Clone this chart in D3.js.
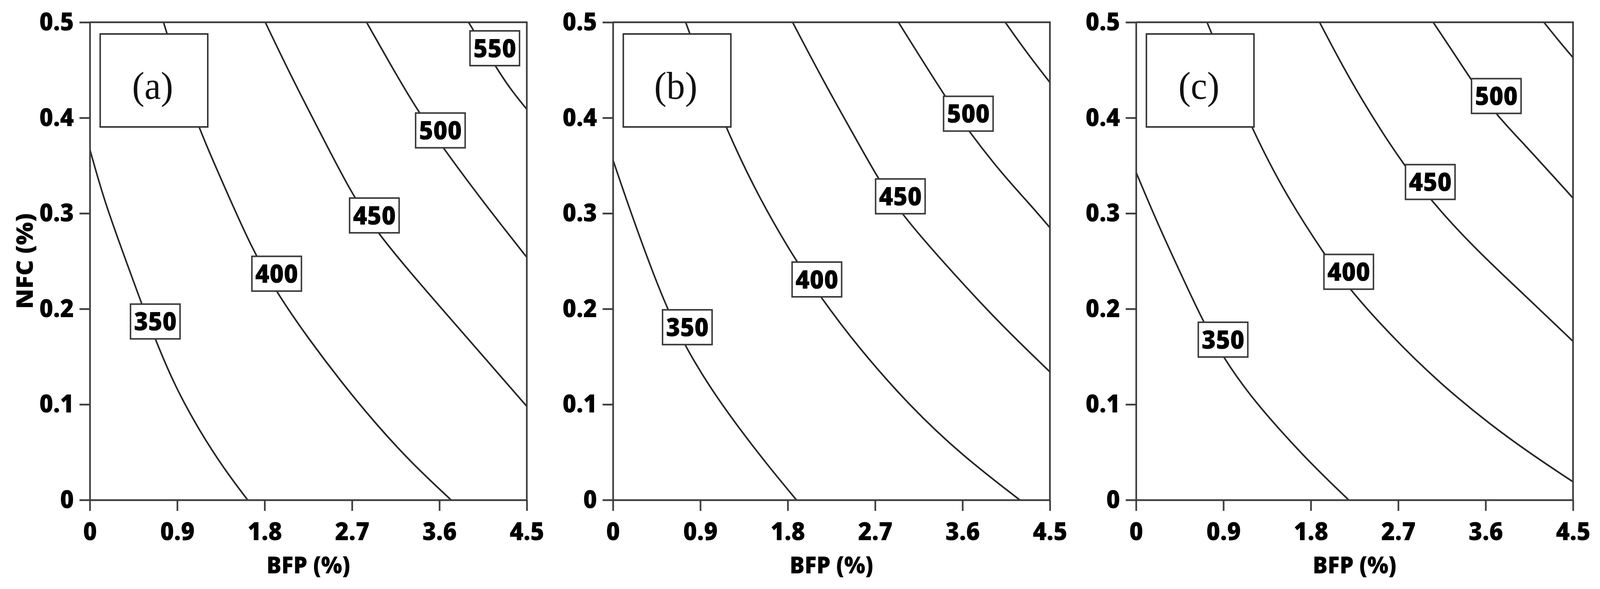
<!DOCTYPE html>
<html>
<head>
<meta charset="utf-8">
<script src="https://cdn.jsdelivr.net/npm/d3@7"></script>
<style>
  html, body { margin: 0; padding: 0; background: #fff; overflow: hidden; }
  svg { display: block; }
</style>
</head>
<body>
<div id="chart"></div>
<script>
// axis ticks
const bfpTicks = [0, 0.9, 1.8, 2.7, 3.6, 4.5];
const nfcTicks = [0, 0.1, 0.2, 0.3, 0.4, 0.5];
const panelTags = ["(a)", "(b)", "(c)"];

// contour lines, [BFP %, NFC %]
const contoursA = [
  { level: 350, pts: [[0, 0.367], [0.141, 0.316], [0.305, 0.269], [0.52, 0.209], [0.674, 0.168], [0.876, 0.119], [1.131, 0.072], [1.386, 0.032], [1.625, 0]] },
  { level: 400, pts: [[0.759, 0.5], [0.97, 0.43], [1.195, 0.372], [1.386, 0.328], [1.664, 0.264], [1.93, 0.216], [2.25, 0.169], [2.6, 0.122], [2.95, 0.079], [3.31, 0.039], [3.72, 0]] },
  { level: 450, pts: [[1.807, 0.5], [2.07, 0.444], [2.42, 0.375], [2.69, 0.322], [2.95, 0.281], [3.31, 0.237], [3.66, 0.196], [4.08, 0.147], [4.5, 0.098]] },
  { level: 500, pts: [[2.85, 0.5], [3.1, 0.455], [3.36, 0.41], [3.62, 0.371], [3.94, 0.327], [4.22, 0.29], [4.5, 0.254]] },
  { level: 550, pts: [[3.9, 0.5], [4.17, 0.455], [4.33, 0.43], [4.5, 0.409]] }
];
const contoursB = [
  { level: 350, pts: [[0, 0.356], [0.18, 0.302], [0.42, 0.235], [0.6, 0.191], [0.756, 0.159], [0.984, 0.12], [1.3, 0.0747], [1.62, 0.033], [1.89, 0]] },
  { level: 400, pts: [[0.749, 0.5], [1.0, 0.43], [1.25, 0.37], [1.5, 0.318], [1.8, 0.264], [2.11, 0.216], [2.53, 0.159], [3.06, 0.098], [3.59, 0.047], [4.19, 0]] },
  { level: 450, pts: [[1.85, 0.5], [2.18, 0.436], [2.53, 0.373], [2.71, 0.34], [2.97, 0.299], [3.41, 0.248], [3.94, 0.189], [4.5, 0.134]] },
  { level: 500, pts: [[2.94, 0.5], [3.23, 0.453], [3.45, 0.418], [3.67, 0.385], [4.01, 0.341], [4.29, 0.31], [4.5, 0.285]] },
  { level: 550, pts: [[4.04, 0.5], [4.27, 0.467], [4.5, 0.437]] }
];
const contoursC = [
  { level: 350, pts: [[0, 0.343], [0.227, 0.288], [0.515, 0.225], [0.695, 0.186], [0.893, 0.15], [1.16, 0.111], [1.49, 0.072], [1.85, 0.033], [2.19, 0]] },
  { level: 400, pts: [[0.731, 0.5], [1.18, 0.39], [1.55, 0.318], [1.94, 0.257], [2.19, 0.2215], [2.57, 0.178], [3.11, 0.123], [3.83, 0.064], [4.5, 0.019]] },
  { level: 450, pts: [[1.89, 0.5], [2.21, 0.438], [2.57, 0.379], [2.76, 0.351], [3.03, 0.314], [3.47, 0.265], [4.01, 0.2136], [4.5, 0.166]] },
  { level: 500, pts: [[3.06, 0.5], [3.29, 0.465], [3.45, 0.44], [3.7, 0.404], [4.01, 0.371], [4.29, 0.3395], [4.5, 0.316]] },
  { level: 550, pts: [[4.2, 0.5], [4.35, 0.481], [4.5, 0.463]] }
];

// where the level labels sit, [level, BFP, NFC]
const labelsA = [[350, 0.674, 0.187], [400, 1.924, 0.237], [450, 2.93, 0.298], [500, 3.61, 0.387], [550, 4.17, 0.473]];
const labelsB = [[350, 0.766, 0.181], [400, 2.10, 0.231], [450, 2.96, 0.318], [500, 3.66, 0.4045]];
const labelsC = [[350, 0.896, 0.168], [400, 2.19, 0.239], [450, 3.03, 0.333], [500, 3.71, 0.423]];

const contours = [contoursA, contoursB, contoursC];
const labels = [labelsA, labelsB, labelsC];

const W = 4328, H = 1508;
const plotW = 1182, plotH = 1223, plotTop = 57;
const lefts = [243, 1658, 3073];
const axisColor = "#3d3d3d";
const sansFont = "'Open Sans', 'DejaVu Sans', sans-serif";

// drawn in 4328x1508 units and stretched onto the window
const svg = d3.select("#chart").append("svg")
    .attr("viewBox", "0 0 " + W + " " + H)
    .attr("preserveAspectRatio", "none")
    .style("width", "100vw")
    .style("height", "100vh");

const x = d3.scaleLinear().domain([0, 4.5]).range([0, plotW]);
const y = d3.scaleLinear().domain([0, 0.5]).range([plotH, 0]);

const line = d3.line()
    .x(function(d) { return x(d[0]); })
    .y(function(d) { return y(d[1]); })
    .curve(d3.curveBasis);

svg.append("defs").append("clipPath")
    .attr("id", "plotclip")
    .append("rect")
    .attr("width", plotW)
    .attr("height", plotH);

lefts.forEach(function(left, i) {
  var g = svg.append("g").attr("transform", "translate(" + left + "," + plotTop + ")");

  // contour lines
  g.append("g")
    .attr("clip-path", "url(#plotclip)")
    .selectAll("path")
    .data(contours[i])
    .enter().append("path")
    .attr("d", function(d) { return line(d.pts); })
    .attr("fill", "none")
    .attr("stroke", "#262626")
    .attr("stroke-width", 4.2);

  // frame (top and right)
  g.append("path")
    .attr("d", "M0,0H" + plotW + "V" + plotH)
    .attr("fill", "none")
    .attr("stroke", axisColor)
    .attr("stroke-width", 4.5);

  // axes
  var xAxis = g.append("g")
    .attr("transform", "translate(0," + plotH + ")")
    .call(d3.axisBottom(x).tickValues(bfpTicks).tickSize(28).tickPadding(30).tickSizeOuter(0)
      .tickFormat(function(d) { return String(d); }));
  var yAxis = g.append("g")
    .call(d3.axisLeft(y).tickValues(nfcTicks).tickSize(28).tickPadding(15).tickSizeOuter(0)
      .tickFormat(function(d) { return String(d); }));

  [xAxis, yAxis].forEach(function(a) {
    a.select(".domain").attr("stroke", axisColor).attr("stroke-width", 4.5);
    a.selectAll(".tick line").attr("stroke", axisColor).attr("stroke-width", 4.5);
    a.selectAll(".tick text")
      .attr("fill", "#000")
      .style("font-family", sansFont)
      .style("font-weight", 800)
      .style("font-size", "64px");
  });

  // legend box with panel tag
  g.append("rect")
    .attr("x", 28).attr("y", 30)
    .attr("width", 291).attr("height", 238)
    .attr("fill", "#fff")
    .attr("stroke", "#333")
    .attr("stroke-width", 4);
  g.append("text")
    .attr("x", 170).attr("y", 196)
    .attr("text-anchor", "middle")
    .style("font-family", "'Liberation Serif', 'DejaVu Serif', serif")
    .style("font-size", "100px")
    .attr("fill", "#111")
    .text(panelTags[i]);

  // level labels
  var lab = g.selectAll("g.lab")
    .data(labels[i])
    .enter().append("g")
    .attr("class", "lab")
    .attr("transform", function(d) { return "translate(" + x(d[1]) + "," + y(d[2]) + ")"; });
  lab.append("rect")
    .attr("x", -67).attr("y", -44)
    .attr("width", 134).attr("height", 89)
    .attr("fill", "#fff")
    .attr("stroke", "#3a3a3a")
    .attr("stroke-width", 4);
  lab.append("text")
    .attr("text-anchor", "middle")
    .attr("dy", "0.36em")
    .style("font-family", sansFont)
    .style("font-weight", 800)
    .style("font-size", "66px")
    .attr("fill", "#000")
    .text(function(d) { return d[0]; });

  // x title
  g.append("text")
    .attr("x", plotW / 2)
    .attr("y", 1468 - plotTop)
    .attr("text-anchor", "middle")
    .style("font-family", sansFont)
    .style("font-weight", 800)
    .style("font-size", "60px")
    .text("BFP (%)");

  if (i === 0) {
    g.append("text")
      .attr("transform", "translate(" + (67 - left + 22) + "," + (plotH / 2) + ") rotate(-90)")
      .attr("text-anchor", "middle")
      .style("font-family", sansFont)
      .style("font-weight", 800)
      .style("font-size", "62px")
      .text("NFC (%)");
  }
});
</script>
</body>
</html>
